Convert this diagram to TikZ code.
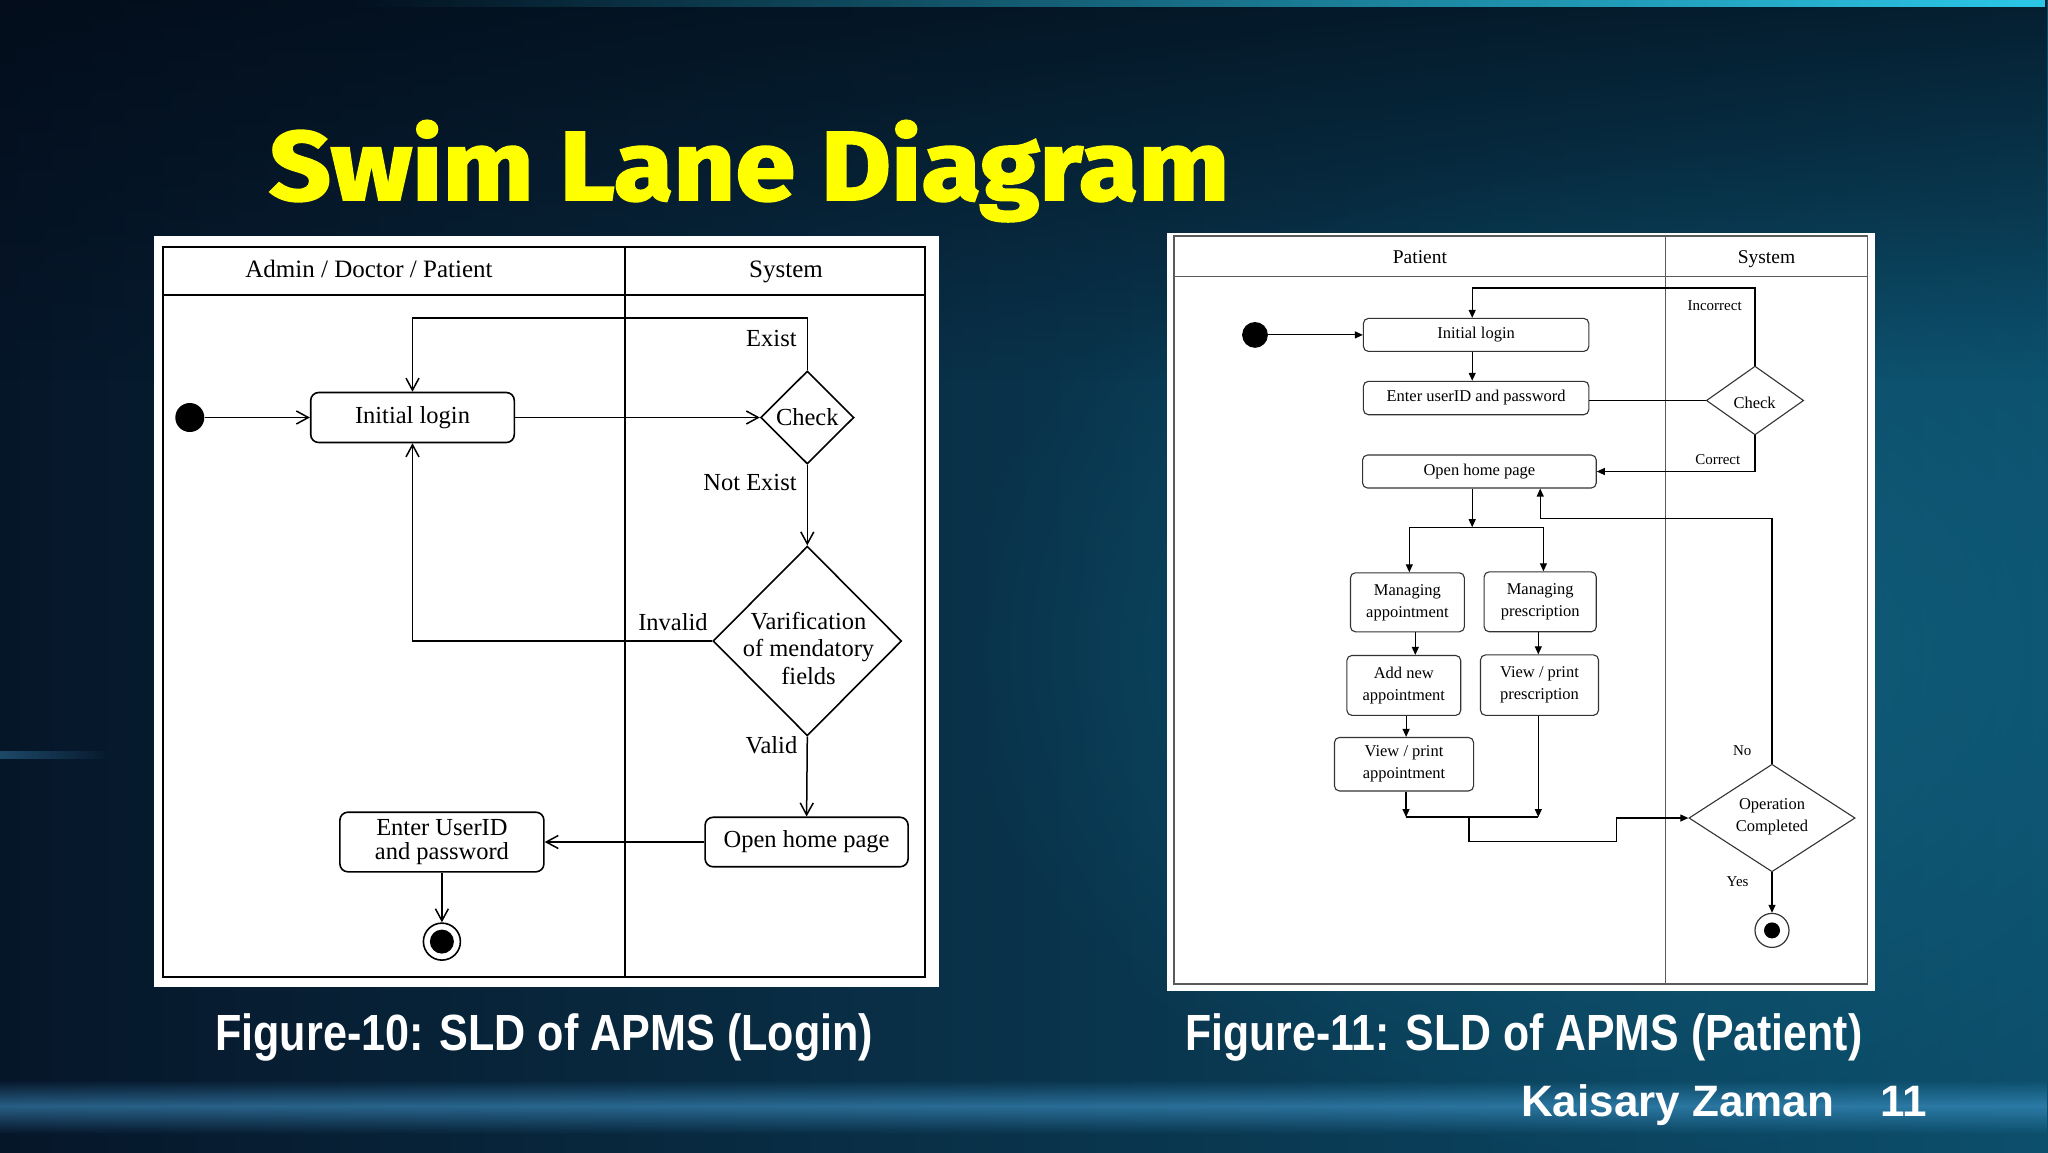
\documentclass[tikz,border=0pt]{standalone}
\usepackage{fontspec}
\setmainfont{Liberation Serif}
\newfontfamily\capfont{Liberation Sans}
\newfontfamily\titlefont{Fira Sans}[BoldFeatures={FakeBold=2}]
\usetikzlibrary{arrows.meta,shapes.geometric,fadings}
\definecolor{bgL}{HTML}{061629}
\definecolor{bgM}{HTML}{0B3A5E}
\definecolor{bgR}{HTML}{0C4F6C}
\definecolor{bgTop}{HTML}{020A16}
\definecolor{glowC}{HTML}{13708E}
\definecolor{streakC}{HTML}{4AA6E0}
\definecolor{edgeC}{HTML}{2CC8E8}
\definecolor{titleY}{HTML}{FFFF00}
\definecolor{frameG}{HTML}{5A5A5A}
\tikzfading[name=fadedown, top color=transparent!0, bottom color=transparent!100]
\tikzfading[name=fadeup, top color=transparent!100, bottom color=transparent!0]
\tikzfading[name=glowfade, inner color=transparent!0, outer color=transparent!100]
\tikzfading[name=fadeleft, left color=transparent!100, right color=transparent!0]
\tikzfading[name=faderight, left color=transparent!0, right color=transparent!100]
\newcommand\fLeft{\fontsize{24.5}{27.5}\selectfont}
\newcommand\fLeftTight{\fontsize{24.5}{23.5}\selectfont}
\newcommand\fRbox{\fontsize{16.5}{22}\selectfont}
\newcommand\fRlab{\fontsize{15}{18}\selectfont}
\newcommand\fRhead{\fontsize{19.5}{23}\selectfont}
\newcommand\fLhead{\fontsize{25}{30}\selectfont}
\begin{document}
\begin{tikzpicture}[x=1pt,y=-1pt,
  lbox/.style={draw, line width=1.6pt, rounded corners=8pt, inner sep=0pt, fill=white, font=\fLeft, align=center},
  ldia/.style={draw, line width=1.6pt, diamond, inner sep=0pt, aspect=1, fill=white},
  larr/.style={line width=1.5pt, -{Straight Barb[length=12pt,width=13pt]}},
  rbox/.style={draw=black!80, line width=1.1pt, rounded corners=5pt, inner sep=0pt, fill=white, font=\fRbox, align=center},
  rdia/.style={draw=black!80, line width=1.1pt, diamond, inner sep=0pt, fill=white},
  rarr/.style={line width=1.15pt, -{Triangle[length=8pt,width=7pt]}},
  rline/.style={line width=1.15pt},
  lbl/.style={font=\fLeft, inner sep=0pt},
  rlbl/.style={font=\fRlab, inner sep=0pt}
]
% ---------- background ----------
\useasboundingbox (0,0) rectangle (2048,1152);
\shade[left color=bgL, middle color=bgM, right color=bgR] (0,0) rectangle (2048,1152);
\fill[glowC, path fading=glowfade, opacity=0.55] (1650,650) ellipse (700pt and 520pt);
\fill[bgTop, path fading=fadedown, opacity=0.7] (0,0) rectangle (2048,380);
% bottom light streak
\fill[streakC, path fading=fadeup, opacity=0.5] (0,1080) rectangle (2048,1106);
\fill[streakC, path fading=fadedown, opacity=0.5] (0,1106) rectangle (2048,1134);
% small streak at left edge
\fill[streakC, path fading=faderight, opacity=0.35] (0,751) rectangle (110,759);
% top cyan edge
\fill[edgeC, path fading=fadeleft] (350,0) rectangle (2048,7);

% ---------- title & captions ----------
\node[anchor=base west, inner sep=0pt, text=titleY] (title) at (269,200)
  {\resizebox{960pt}{68pt}{\titlefont\bfseries\smash{Swim Lane Diagram}\rule{0pt}{\fontcharht\font`\S}}};
\node[anchor=base west, inner sep=0pt, text=white] (cap1) at (215,1050)
  {\resizebox{658pt}{35pt}{\capfont\bfseries\smash{Figure-10: SLD of APMS (Login)}\rule{0pt}{\fontcharht\font`\F}}};
\node[anchor=base west, inner sep=0pt, text=white] (cap2) at (1185,1050)
  {\resizebox{677pt}{35pt}{\capfont\bfseries\smash{Figure-11: SLD of APMS (Patient)}\rule{0pt}{\fontcharht\font`\F}}};
\node[anchor=base west, inner sep=0pt, text=white, font=\capfont\bfseries\fontsize{44}{50}\selectfont] (auth) at (1521,1116) {Kaisary Zaman};
\node[anchor=base west, inner sep=0pt, text=white, font=\capfont\bfseries\fontsize{44}{50}\selectfont] (pg) at (1880,1116) {11};

% ---------- left panel (Figure-10) ----------
\fill[white] (153.5,236) rectangle (939.3,987.3);
\draw[line width=2pt] (162.7,247) rectangle (924.7,976.7);
\draw[line width=2pt] (162.7,295.3) -- (924.7,295.3);
\draw[line width=2pt] (625,247) -- (625,976.7);
\node[font=\fLhead, anchor=base, inner sep=0pt] (h1) at (369,277) {Admin / Doctor / Patient};
\node[font=\fLhead, anchor=base, inner sep=0pt] (h2) at (786,277) {System};

\node[circle, fill=black, minimum size=29pt, inner sep=0pt] (s1) at (189.8,417.5) {};
\node[lbox, minimum width=203.6pt, minimum height=50pt] (il) at (412.5,417.5) {Initial login};
\node[ldia, minimum width=93.3pt, minimum height=93pt] (chk) at (807.3,417.5) {};
\node[font=\fLeft, inner sep=0pt] (chkT) at (807.3,417) {Check};
\node[ldia, minimum width=188.7pt, minimum height=189.6pt] (ver) at (807.3,641) {};
\node[font=\fLeft, align=center, inner sep=0pt] (verT) at (808.5,648) {Varification\\of mendatory\\fields};
\node[lbox, minimum width=203pt, minimum height=49.5pt] (ohp) at (806.6,842) {Open home page};
\node[lbox, minimum width=204pt, minimum height=59.6pt, font=\fLeftTight] (eu) at (441.9,842) {Enter UserID\\and password};
\node[circle, draw, line width=1.6pt, fill=white, minimum size=37pt, inner sep=0pt] (e1) at (441.9,941.6) {};
\fill (e1.center) circle (12pt);

\coordinate (ex) at (807.3,318.2);
\draw[larr] (s1) -- (il);
\draw[larr] (il) -- (chk);
\draw[larr] (chk.north) -- (ex) -| (il.north);
\draw[larr] (chk.south) -- (ver.north);
\draw[larr] (ver.west) -| (il.south);
\draw[larr] (ver.south) -- (ohp.north);
\draw[larr] (ohp.west) -- (eu.east);
\draw[larr] (eu.south) -- (e1.north);

\node[lbl] (lbEx) at (771.4,339) {Exist};
\node[lbl] (lbNE) at (750,482) {Not Exist};
\node[lbl] (lbIn) at (673,621.7) {Invalid};
\node[lbl] (lbVa) at (771.4,744.8) {Valid};

% ---------- right panel (Figure-11) ----------
\fill[white] (1167.3,233.3) rectangle (1875,990.7);
\draw[frameG, line width=1.3pt] (1174,236) rectangle (1867.7,984);
\draw[frameG, line width=1.3pt] (1174,276.5) -- (1867.7,276.5);
\draw[frameG, line width=1.3pt] (1665.5,236) -- (1665.5,984);
\node[font=\fRhead, anchor=base, inner sep=0pt] (hP) at (1419.9,263.5) {Patient};
\node[font=\fRhead, anchor=base, inner sep=0pt] (hS) at (1766.5,263.5) {System};

\node[circle, fill=black, minimum size=25.8pt, inner sep=0pt] (s2) at (1255,334.9) {};
\node[rbox, minimum width=225.4pt, minimum height=33pt] (il2) at (1476.1,334.9) {Initial login};
\node[rbox, minimum width=225.4pt, minimum height=33.4pt] (eu2) at (1476.1,398) {Enter userID and password};
\node[rdia, minimum width=97.3pt, minimum height=68.8pt] (chk2) at (1755,400.5) {};
\node[font=\fRbox, inner sep=0pt] (chk2T) at (1754.6,403) {Check};
\node[rbox, minimum width=233.7pt, minimum height=33pt] (ohp2) at (1479.4,471.5) {Open home page};
\node[rbox, minimum width=113.9pt, minimum height=59pt] (ma) at (1407.4,602.3) {Managing\\appointment};
\node[rbox, minimum width=112.1pt, minimum height=59.9pt] (mp) at (1540.2,601.8) {Managing\\prescription};
\node[rbox, minimum width=113.8pt, minimum height=59.9pt] (ana) at (1403.8,685.4) {Add new\\appointment};
\node[rbox, minimum width=139.1pt, minimum height=53.5pt] (vpa) at (1404,764.2) {View / print\\appointment};
\node[rbox, minimum width=118pt, minimum height=60.4pt] (vpp) at (1539.5,685.1) {View / print\\prescription};
\node[rdia, minimum width=166.2pt, minimum height=107.6pt] (oc) at (1772,818) {};
\node[font=\fRbox, align=center, inner sep=0pt] (ocT) at (1772,817) {Operation\\Completed};
\node[circle, draw=black!80, line width=1.2pt, fill=white, minimum size=34pt, inner sep=0pt] (e2) at (1772,930.4) {};
\fill (e2.center) circle (8pt);

\coordinate (ax) at (1472.2,0);
\coordinate (ic) at (1755,288);
\coordinate (fk) at (1472.2,527.2);
\coordinate (fkL) at (1409.3,527.2);
\coordinate (fkR) at (1543.4,527.2);
\coordinate (c1) at (1415.3,0);
\coordinate (c2) at (1406.1,0);
\coordinate (c3) at (1538.3,0);
\coordinate (jL) at (1406,817);
\coordinate (jR) at (1538.3,817);
\coordinate (m1) at (1469,817);
\coordinate (m3) at (1616.8,841.5);
\coordinate (nc) at (1772,518.3);
\coordinate (c4) at (1540.2,0);

\draw[rarr] (s2) -- (il2);
\draw[rarr] (il2.south -| ax) -- (eu2.north -| ax);
\draw[rline] (eu2.east |- chk2.west) -- (chk2.west);
\draw[rarr] (chk2.north) -- (ic) -| (il2.north -| ax);
\draw[rarr] (chk2.south) |- (ohp2.east);
\draw[rarr] (ohp2.south -| ax) -- (fk);
\draw[rline] (fkL) -- (fkR);
\draw[rarr] (fkL) -- (ma.north -| fkL);
\draw[rarr] (fkR) -- (mp.north -| fkR);
\draw[rarr] (ma.south -| c1) -- (ana.north -| c1);
\draw[rarr] (ana.south -| c2) -- (vpa.north -| c2);
\draw[rarr] (mp.south -| c3) -- (vpp.north -| c3);
\draw[rarr] (vpa.south -| jL) -- (jL);
\draw[rarr] (vpp.south -| jR) -- (jR);
\draw[rline] (jL) -- (jR);
\draw[rarr] (m1) |- (m3) |- (oc.west);
\draw[rarr] (oc.north) -- (nc) -| (ohp2.south -| c4);
\draw[rarr] (oc.south) -- (e2.north);

\node[rlbl] (lbInc) at (1714.6,306) {Incorrect};
\node[rlbl] (lbCor) at (1717.8,459.4) {Correct};
\node[rlbl] (lbNo) at (1742.2,750.6) {No};
\node[rlbl] (lbYes) at (1737.6,881.3) {Yes};
\end{tikzpicture}
\end{document}
